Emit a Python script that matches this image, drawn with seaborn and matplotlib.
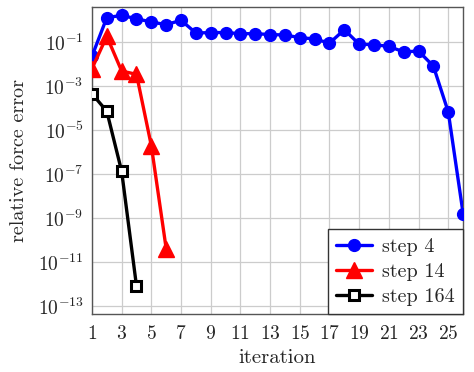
import numpy as np
import pandas as pd
import seaborn as sns
import matplotlib
matplotlib.use("Agg")
import matplotlib.pyplot as plt
from matplotlib.ticker import FixedLocator, LogFormatterMathtext, NullLocator

# data (log10 of the relative force error)
iter_step4 = list(range(1, 27))
log_err_step4 = [-1.65, 0.11, 0.21, 0.06, -0.09, -0.21, -0.01, -0.59, -0.57, -0.57,
                 -0.62, -0.62, -0.66, -0.68, -0.80, -0.86, -1.05, -0.44, -1.10, -1.12,
                 -1.20, -1.45, -1.41, -2.10, -4.18, -8.80]
iter_step14 = [1, 2, 3, 4, 5, 6]
log_err_step14 = [-2.21, -0.74, -2.32, -2.47, -5.72, -10.4]
iter_step164 = [1, 2, 3, 4]
log_err_step164 = [-3.35, -4.15, -6.88, -12.1]

series_names = ["step 4", "step 14", "step 164"]
x_ticks = list(range(1, 27, 2))
y_ticks = [10.0 ** k for k in range(-13, 0, 2)]

sns.set_style("whitegrid")
plt.rcParams["font.family"] = "serif"
plt.rcParams["font.serif"] = ["cmr10", "DejaVu Serif"]
plt.rcParams["mathtext.fontset"] = "cm"
plt.rcParams["axes.formatter.use_mathtext"] = True

fig = plt.figure(figsize=(4.74, 3.72), dpi=100)
ax = fig.add_axes([0.194, 0.156, 0.783, 0.825])

styles = [
    dict(color="#0000ff", marker="o", markersize=8.5, markerfacecolor="#0000ff",
         markeredgecolor="#0000ff", markeredgewidth=1),
    dict(color="#ff0000", marker="^", markersize=11, markerfacecolor="#ff0000",
         markeredgecolor="#ff0000", markeredgewidth=1),
    dict(color="black", marker="s", markersize=6.5, markerfacecolor="white",
         markeredgecolor="black", markeredgewidth=2.2),
]
all_x = [iter_step4, iter_step14, iter_step164]
all_y = [log_err_step4, log_err_step14, log_err_step164]

for name, xs, ys, st in zip(series_names, all_x, all_y, styles):
    df = pd.DataFrame({"iteration": xs, "error": [10.0 ** v for v in ys]})
    sns.lineplot(data=df, x="iteration", y="error", ax=ax, label=name,
                 linewidth=2.4, zorder=3, **st)

ax.set_yscale("log")
ax.set_xlim(1, 26)
ax.set_ylim(10 ** -13.37, 10 ** 0.59)
ax.xaxis.set_major_locator(FixedLocator(x_ticks))
ax.yaxis.set_major_locator(FixedLocator(y_ticks))
ax.yaxis.set_major_formatter(LogFormatterMathtext())
ax.yaxis.set_minor_locator(NullLocator())
ax.grid(True, color="#cccccc", linewidth=0.9)
for sp in ax.spines.values():
    sp.set_color("#555555")
    sp.set_linewidth(1.0)
ax.tick_params(axis="both", labelsize=14, direction="in", length=3,
               color="#555555")
ax.tick_params(axis="x", pad=8)
ax.tick_params(axis="y", pad=6)

ax.set_xlabel("iteration", fontsize=15, labelpad=4)
ax.set_ylabel("relative force error", fontsize=14.5, labelpad=7)

leg = ax.legend(loc="lower right", fontsize=14.5, frameon=True, fancybox=False,
                framealpha=1, edgecolor="#333333", borderaxespad=0,
                handlelength=1.8, handletextpad=0.5, labelspacing=0.35,
                borderpad=0.4)
leg.get_frame().set_linewidth(1.0)

fig.savefig("out.png", dpi=100)
